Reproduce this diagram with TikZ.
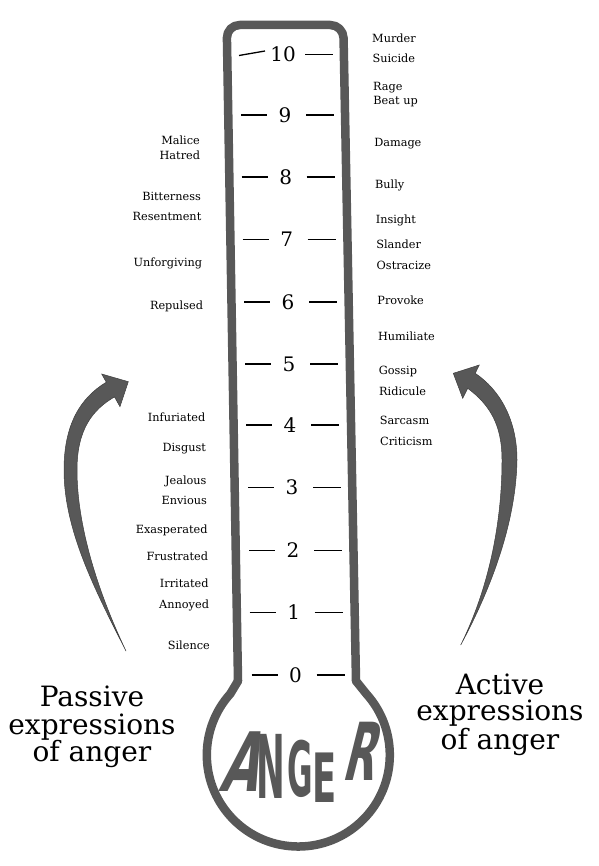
\documentclass[tikz,border=0pt]{standalone}
\usepackage{fontspec}
\setmainfont{DejaVu Serif}
\newfontfamily\angerfont{DejaVu Sans}
\definecolor{tubegray}{RGB}{88,88,88}
\newcommand{\angerltr}[5]{\raisebox{#4pt}{\fontsize{#1}{#1}\selectfont\addfontfeatures{FakeStretch=#2,FakeSlant=#3}#5}}
\begin{document}
\begin{tikzpicture}[x=1pt,y=-1pt,
  tube/.style={draw=tubegray, line width=8.5pt, line cap=round, line join=round},
  tick/.style={draw=black, line width=1.3pt},
  numlbl/.style={font=\fontsize{20}{20}\selectfont, inner sep=0pt},
  lbl/.style={font=\fontsize{11.3}{13}\selectfont, inner sep=0pt},
  big/.style={font=\fontsize{28}{#1}\selectfont, inner sep=0pt, align=center},
  angerword/.style={font=\angerfont\bfseries, text=tubegray, inner sep=0pt, anchor=base west},
  arrowshape/.style={fill=tubegray, draw=tubegray!70!black, line width=0.5pt}
]
\useasboundingbox (0,0) rectangle (598,866);

% thermometer outline
\draw[tube, rounded corners=13] (238,681) -- (226.7,25) -- (343.3,25) -- (356,681);
\draw[tube] (356,681) -- (366.3,693.8) arc[start angle=-42, end angle=222, radius=91.5] -- (238,681);

% scale numbers
\foreach \n/\cx/\cy in {10/283/54.5, 9/285/115, 8/285.7/177, 7/286.7/239.5, 6/288/302, 5/289/364, 4/290/425, 3/292/487.5, 2/293/550.5, 1/293.7/612.5, 0/295.5/675} {
  \node[numlbl] (n\n) at (\cx,\cy) {\n};
}
\foreach \n in {0,...,9} {
  \draw[tick] ([xshift=-44pt]n\n.center) -- ([xshift=-18pt]n\n.center);
  \draw[tick] ([xshift=21pt]n\n.center) -- ([xshift=49pt]n\n.center);
}
\draw[tick] ([shift={(-44,1)}]n10.center) -- ([shift={(-18,-3.5)}]n10.center);
\draw[tick] ([xshift=22pt]n10.center) -- ([xshift=50pt]n10.center);

% passive (left) labels
\foreach \t/\yy [count=\i] in {Malice/140, Hatred/155, Bitterness/196, Resentment/216, Unforgiving/262, Repulsed/305, Infuriated/417, Disgust/447, Jealous/480, Envious/500, Exasperated/529, Frustrated/556, Irritated/583, Annoyed/604, Silence/645} {
  \node[lbl, anchor=base east] (L\i) at ({200+(\yy-140)*0.0198},{\yy+4.5}) {\t};
}
% active (right) labels
\foreach \t/\yy [count=\i] in {Murder/38, Suicide/58, Rage/86, Beat up/100, Damage/142, Bully/184, Insight/219, Slander/244, Ostracize/265, Provoke/300, Humiliate/336, Gossip/370, Ridicule/391, Sarcasm/420, Criticism/441} {
  \node[lbl, anchor=base west] (R\i) at ({372+(\yy-38)*0.0198},{\yy+4.5}) {\t};
}

% curved arrows
\filldraw[arrowshape] (126,651) .. controls (95,590) and (64,530) .. (64,470)
  .. controls (64,425) and (80,398) .. (106.3,382.2) -- (101.7,374) -- (128.3,381.7)
  -- (120,406.7) -- (114.5,396.9) .. controls (92,410) and (77,430) .. (77,470)
  .. controls (77,525) and (97,590) .. (126,651) -- cycle;
\filldraw[arrowshape] (460.7,645) .. controls (493,585) and (516,520) .. (517,460)
  .. controls (517,420) and (500,390) .. (475.2,373.3) -- (479.3,365) -- (453.3,373.3)
  -- (462.7,398.3) -- (467.7,388.3) .. controls (490,405) and (502,425) .. (502,460)
  .. controls (502,525) and (488,590) .. (460.7,645) -- cycle;

% big captions
\node[big=27.5] (passive) at (92,727) {Passive\\expressions\\of anger};
\node[big=26.6] (active) at (500,714.5) {Active\\expressions\\of anger};

% ANGER in the bulb
\node[angerword] (anger) at (218,800) {%
  \angerltr{82}{0.6}{0.3}{8.1}{A}%
  \angerltr{88}{0.39}{0}{1.9}{N}\kern2pt
  \angerltr{76}{0.41}{0}{3.3}{G}%
  \angerltr{68}{0.52}{0}{-2.8}{E}\kern5pt
  \angerltr{80}{0.52}{0.25}{19.8}{R}};
\end{tikzpicture}
\end{document}
